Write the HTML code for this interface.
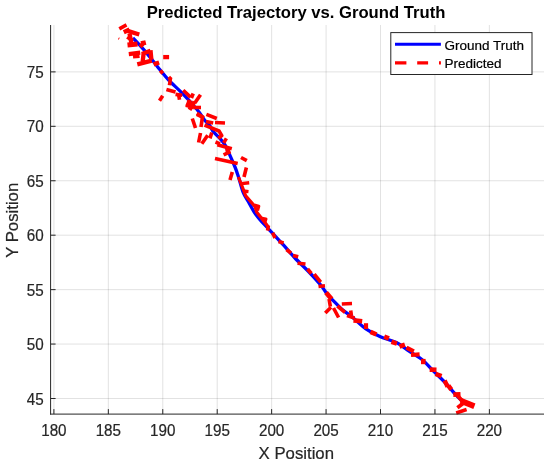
<!DOCTYPE html>
<html lang="en"><head><meta charset="utf-8"><title>Predicted Trajectory vs. Ground Truth</title>
<style>
html,body{margin:0;padding:0;background:#fff;}
body{width:550px;height:464px;overflow:hidden;}
svg{display:block;}
text{font-family:"Liberation Sans",Arial,Helvetica,sans-serif;fill:#000;}
.tk{font-size:15.6px;fill:#262626;stroke:#262626;stroke-width:0.2;}
.lb{font-size:16.75px;fill:#262626;stroke:#262626;stroke-width:0.2;}
.tt{font-size:16.65px;font-weight:bold;}
.lg{font-size:13.5px;stroke:#000;stroke-width:0.2;}
.grid line{stroke:#262626;stroke-opacity:0.15;stroke-width:0.9;}
.ax line{stroke:#262626;stroke-width:1;}
</style></head><body>
<svg width="550" height="464" viewBox="0 0 550 464">
<rect width="550" height="464" fill="#fff"/>
<g class="grid">
<line x1="53.90" y1="25.0" x2="53.90" y2="414.1"/>
<line x1="108.34" y1="25.0" x2="108.34" y2="414.1"/>
<line x1="162.77" y1="25.0" x2="162.77" y2="414.1"/>
<line x1="217.21" y1="25.0" x2="217.21" y2="414.1"/>
<line x1="271.64" y1="25.0" x2="271.64" y2="414.1"/>
<line x1="326.07" y1="25.0" x2="326.07" y2="414.1"/>
<line x1="380.51" y1="25.0" x2="380.51" y2="414.1"/>
<line x1="434.94" y1="25.0" x2="434.94" y2="414.1"/>
<line x1="489.38" y1="25.0" x2="489.38" y2="414.1"/>
<line x1="50.6" y1="398.50" x2="544.0" y2="398.50"/>
<line x1="50.6" y1="344.06" x2="544.0" y2="344.06"/>
<line x1="50.6" y1="289.63" x2="544.0" y2="289.63"/>
<line x1="50.6" y1="235.19" x2="544.0" y2="235.19"/>
<line x1="50.6" y1="180.76" x2="544.0" y2="180.76"/>
<line x1="50.6" y1="126.32" x2="544.0" y2="126.32"/>
<line x1="50.6" y1="71.89" x2="544.0" y2="71.89"/>
</g>
<path d="M132.9,37.8 C135.0,40.1 141.0,46.3 145.5,51.6 C150.0,56.9 156.1,65.0 160.0,69.8 C163.9,74.5 165.0,76.2 168.7,80.1 C172.3,83.9 177.7,88.6 181.9,92.9 C186.1,97.2 191.2,102.8 194.0,106.0 C196.8,109.2 197.2,109.7 199.0,112.0 C200.8,114.3 202.8,117.8 204.5,120.0 C206.2,122.2 208.0,123.3 209.5,125.3 C211.0,127.3 211.9,129.9 213.6,132.0 C215.3,134.1 217.6,135.9 219.5,138.0 C221.4,140.1 223.3,142.1 225.0,144.8 C226.7,147.5 227.8,150.7 229.5,154.4 C231.2,158.1 233.4,163.1 235.0,167.0 C236.6,170.9 237.4,173.8 238.8,178.0 C240.2,182.2 241.5,188.2 243.2,192.3 C244.8,196.4 246.9,199.0 248.7,202.3 C250.5,205.6 252.3,209.2 254.2,212.2 C256.1,215.1 257.8,217.2 260.2,220.0 C262.6,222.8 264.6,224.6 268.5,228.8 C272.4,233.0 279.3,240.4 283.6,245.2 C287.9,250.0 290.3,253.0 294.5,257.5 C298.7,262.0 304.6,267.4 309.0,272.0 C313.4,276.6 317.5,281.1 320.7,285.0 C323.9,288.9 325.9,292.8 328.0,295.3 C330.1,297.9 330.7,298.0 333.0,300.3 C335.3,302.6 338.4,306.2 341.8,309.2 C345.2,312.1 349.4,314.8 353.3,318.0 C357.2,321.2 361.0,325.5 365.5,328.6 C370.0,331.7 375.2,334.5 380.4,336.8 C385.5,339.1 391.5,340.2 396.4,342.6 C401.2,345.0 405.1,348.5 409.5,351.4 C413.9,354.3 418.6,356.9 422.5,360.0 C426.4,363.1 428.9,366.5 432.7,370.3 C436.5,374.1 441.7,379.0 445.5,383.0 C449.3,387.0 452.6,391.3 455.6,394.5 C458.6,397.7 462.0,400.8 463.3,402.0" fill="none" stroke="#0000ff" stroke-width="3.3" stroke-linejoin="round"/>
<g fill="none" stroke="#ff0000" stroke-width="3.6" stroke-linejoin="round">
<polyline points="119.3,28.9 126.5,24.9" stroke-width="3.5"/>
<polyline points="123.8,32.3 129.5,29.5" stroke-width="4.3"/>
<polyline points="127.5,30.9 139.3,34.5" stroke-width="4.3"/>
<polyline points="129.5,33.5 131.5,43.5" stroke-width="4.3"/>
<polyline points="127.5,45.0 137.5,44.0" stroke-width="5.2"/>
<polyline points="141.0,43.6 145.8,42.4" stroke-width="4.6"/>
<polyline points="128.8,54.1 140.2,52.7" stroke-width="4.3"/>
<polyline points="133.0,56.4 139.5,55.8" stroke-width="4.3"/>
<polyline points="140.2,46.8 144.2,42.2" stroke-width="4.2"/>
<polyline points="141.8,53.9 150.5,50.7" stroke-width="4.3"/>
<polyline points="150.5,50.3 151.4,59.8" stroke-width="4.3"/>
<polyline points="137.3,64.4 151.8,60.7" stroke-width="4.3"/>
<polyline points="143.6,53.5 142.7,61.6" stroke-width="4.3"/>
<polyline points="163.2,57.1 169.1,57.1" stroke-width="4.3"/>
<polyline points="153.6,64.4 159.1,62.5" stroke-width="4.3"/>
<polyline points="160.3,70.5 162.8,73.5"/>
<polyline points="168.8,77.0 171.0,79.5"/>
<polyline points="170.5,77.5 169.5,85.3"/>
<polyline points="166.4,89.4 175.5,92.1"/>
<polyline points="175.5,94.4 182.3,95.3"/>
<polyline points="162.7,95.7 159.5,100.7"/>
<polyline points="178.6,94.4 179.5,99.8"/>
<polyline points="183.2,90.3 190.5,97.1"/>
<polyline points="193.2,93.5 191.4,98.0"/>
<polyline points="200.5,94.8 194.8,103.0"/>
<polyline points="188.6,100.7 194.0,108.0" stroke-width="4.2"/>
<polyline points="186.3,103.6 191.5,107.0" stroke-width="4"/>
<polyline points="127.3,36.8 132.8,40.6" stroke-width="4"/>
<polyline points="187.3,107.5 189.5,99.8" stroke-width="4.2"/>
<polyline points="189.5,109.8 194.5,101.6" stroke-width="4.2"/>
<polyline points="193.2,107.5 201.0,107.5"/>
<polyline points="196.8,114.4 204.0,118.0"/>
<polyline points="206.4,114.4 216.8,118.5"/>
<polyline points="206.0,121.6 213.2,123.0"/>
<polyline points="215.0,122.5 225.0,123.0"/>
<polyline points="192.3,118.5 195.5,128.0"/>
<polyline points="202.3,118.0 201.0,127.0"/>
<polyline points="196.8,113.4 203.6,117.5"/>
<polyline points="204.5,125.2 219.0,131.0 221.8,135.6 218.2,138.4"/>
<polyline points="200.5,133.0 198.6,142.5"/>
<polyline points="207.7,135.2 201.8,143.8"/>
<polyline points="211.8,132.5 210.0,138.4"/>
<polyline points="226.4,138.4 223.6,143.0"/>
<polyline points="215.5,142.0 220.0,143.8"/>
<polyline points="217.3,144.7 231.8,148.8"/>
<polyline points="225.5,151.0 230.0,150.0"/>
<polyline points="223.6,154.8 230.5,151.6"/>
<polyline points="215.0,158.5 237.7,163.5"/>
<polyline points="241.0,157.5 246.8,160.7"/>
<polyline points="246.4,167.5 244.0,177.0"/>
<polyline points="232.3,172.0 230.0,180.0"/>
<polyline points="238.4,177.0 242.2,186.5 245.7,195.8 255.1,206.6 256.6,212.0 265.7,223.5 269.0,228.0" stroke-width="3.2"/>
<polyline points="241.5,183.6 249.2,182.7" stroke-width="3.4"/>
<polyline points="243.5,191.0 248.5,191.6" stroke-width="3.4"/>
<polyline points="254.3,205.0 258.7,206.3 257.5,210.7" stroke-width="3.2"/>
<polyline points="261.9,218.4 265.9,219.0 264.7,222.8" stroke-width="3.2"/>
<polyline points="268.4,225.5 267.6,230.6"/>
<polyline points="272.7,232.8 275.0,238.0"/>
<polyline points="278.5,241.5 283.6,243.0"/>
<polyline points="286.5,249.5 291.0,253.2"/>
<polyline points="293.0,255.4 298.2,256.8"/>
<polyline points="297.5,263.3 305.5,264.0"/>
<polyline points="307.6,269.0 311.3,273.5"/>
<polyline points="314.2,274.2 320.7,282.2"/>
<polyline points="318.5,286.5 325.0,285.8"/>
<polyline points="326.0,292.5 331.6,299.0" stroke-width="4.8"/>
<polyline points="329.0,299.0 330.4,306.6"/>
<polyline points="331.0,307.3 325.3,313.0"/>
<polyline points="341.8,304.0 352.0,303.5"/>
<polyline points="333.5,308.0 338.6,317.5"/>
<polyline points="337.4,306.0 345.0,312.4"/>
<polyline points="350.7,310.5 351.4,315.5"/>
<polyline points="347.0,315.5 354.5,318.0"/>
<polyline points="353.5,320.4 362.2,321.3" stroke-width="4.6"/>
<polyline points="366.0,323.2 366.0,329.0" stroke-width="4.2"/>
<polyline points="370.5,331.8 376.5,334.5" stroke-width="4.6"/>
<polyline points="384.2,336.6 388.9,338.5" stroke-width="4.6"/>
<polyline points="391.5,341.8 396.9,343.6" stroke-width="4.6"/>
<polyline points="399.5,346.5 404.9,344.6" stroke-width="4.6"/>
<polyline points="406.5,347.7 413.8,351.4" stroke-width="4.2"/>
<polyline points="411.0,355.0 419.6,354.3" stroke-width="4.2"/>
<polyline points="423.3,358.9 423.3,364.2" stroke-width="4.6"/>
<polyline points="429.7,369.6 436.5,369.8" stroke-width="4.6"/>
<polyline points="435.5,373.8 441.5,376.2" stroke-width="4.6"/>
<polyline points="444.6,380.5 447.6,386.7" stroke-width="4.4"/>
<polyline points="448.3,385.5 451.3,389.7" stroke-width="4.6"/>
<polyline points="453.3,394.6 460.5,394.3" stroke-width="4.6"/>
<polyline points="457.5,395.5 462.8,401.8" stroke-width="4"/>
<polyline points="460.8,400.8 474.4,406.2" stroke-width="5.8"/>
<polyline points="463.0,403.5 457.4,407.8" stroke-width="3.8"/>
<polyline points="456.2,413.0 466.6,409.5" stroke-width="3.5"/>
</g>
<g fill="none" stroke="#ff0000" stroke-width="1">
<polyline points="118.5,39.5 119.2,37.6"/>
</g>
<g class="ax">
<line x1="50.6" y1="25.0" x2="50.6" y2="414.6"/>
<line x1="50.1" y1="414.1" x2="544.0" y2="414.1"/>
<line x1="53.90" y1="414.1" x2="53.90" y2="409.1"/>
<line x1="108.34" y1="414.1" x2="108.34" y2="409.1"/>
<line x1="162.77" y1="414.1" x2="162.77" y2="409.1"/>
<line x1="217.21" y1="414.1" x2="217.21" y2="409.1"/>
<line x1="271.64" y1="414.1" x2="271.64" y2="409.1"/>
<line x1="326.07" y1="414.1" x2="326.07" y2="409.1"/>
<line x1="380.51" y1="414.1" x2="380.51" y2="409.1"/>
<line x1="434.94" y1="414.1" x2="434.94" y2="409.1"/>
<line x1="489.38" y1="414.1" x2="489.38" y2="409.1"/>
<line x1="50.6" y1="398.50" x2="55.6" y2="398.50"/>
<line x1="50.6" y1="344.06" x2="55.6" y2="344.06"/>
<line x1="50.6" y1="289.63" x2="55.6" y2="289.63"/>
<line x1="50.6" y1="235.19" x2="55.6" y2="235.19"/>
<line x1="50.6" y1="180.76" x2="55.6" y2="180.76"/>
<line x1="50.6" y1="126.32" x2="55.6" y2="126.32"/>
<line x1="50.6" y1="71.89" x2="55.6" y2="71.89"/>
</g>
<text class="tk" transform="translate(53.90,435.7) scale(0.975,1)" text-anchor="middle">180</text>
<text class="tk" transform="translate(108.34,435.7) scale(0.975,1)" text-anchor="middle">185</text>
<text class="tk" transform="translate(162.77,435.7) scale(0.975,1)" text-anchor="middle">190</text>
<text class="tk" transform="translate(217.21,435.7) scale(0.975,1)" text-anchor="middle">195</text>
<text class="tk" transform="translate(271.64,435.7) scale(0.975,1)" text-anchor="middle">200</text>
<text class="tk" transform="translate(326.07,435.7) scale(0.975,1)" text-anchor="middle">205</text>
<text class="tk" transform="translate(380.51,435.7) scale(0.975,1)" text-anchor="middle">210</text>
<text class="tk" transform="translate(434.94,435.7) scale(0.975,1)" text-anchor="middle">215</text>
<text class="tk" transform="translate(489.38,435.7) scale(0.975,1)" text-anchor="middle">220</text>
<text class="tk" transform="translate(43.7,404.60) scale(0.975,1)" text-anchor="end">45</text>
<text class="tk" transform="translate(43.7,350.17) scale(0.975,1)" text-anchor="end">50</text>
<text class="tk" transform="translate(43.7,295.73) scale(0.975,1)" text-anchor="end">55</text>
<text class="tk" transform="translate(43.7,241.29) scale(0.975,1)" text-anchor="end">60</text>
<text class="tk" transform="translate(43.7,186.86) scale(0.975,1)" text-anchor="end">65</text>
<text class="tk" transform="translate(43.7,132.42) scale(0.975,1)" text-anchor="end">70</text>
<text class="tk" transform="translate(43.7,77.99) scale(0.975,1)" text-anchor="end">75</text>
<text class="lb" x="296.3" y="458.6" text-anchor="middle">X Position</text>
<text class="lb" transform="translate(18,220.3) rotate(-90)" text-anchor="middle">Y Position</text>
<text class="tt" x="296" y="17.6" text-anchor="middle">Predicted Trajectory vs. Ground Truth</text>
<rect x="390.8" y="32.6" width="141.2" height="41.9" fill="#fff" stroke="#262626" stroke-width="1"/>
<line x1="395" y1="44.2" x2="440.9" y2="44.2" stroke="#0000ff" stroke-width="3.1"/>
<path d="M395,62.9H406.4M417.2,62.9H428.1M439,62.9H440.9" stroke="#ff0000" stroke-width="3.1" fill="none"/>
<text class="lg" x="444.5" y="49.9">Ground Truth</text>
<text class="lg" x="444.5" y="68.4">Predicted</text>
</svg></body></html>
